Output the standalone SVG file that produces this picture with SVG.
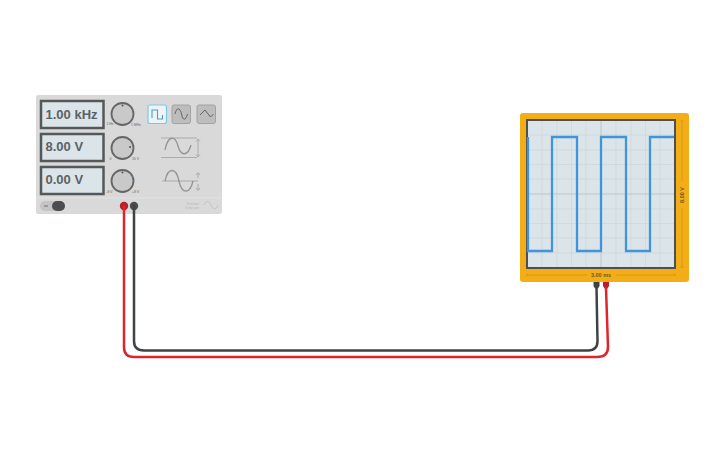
<svg xmlns="http://www.w3.org/2000/svg" width="725" height="453" viewBox="0 0 725 453">
<style>
.disp{fill:#dbe5e9;stroke:#555858;stroke-width:2.500}
.dt{font-family:"Liberation Sans",Arial,sans-serif;font-size:13px;font-weight:bold;fill:#5c6163}
.knob{fill:#c9c9c9;stroke:#666;stroke-width:1.800}
.dot{fill:#555}
.btn{fill:#bdbdbd;stroke:#a2a2a2;stroke-width:1}
.gl{fill:none;stroke:#666;stroke-width:1}
.sym{fill:none;stroke:#ababab;stroke-width:1}
.symd{fill:none;stroke:#949494;stroke-width:1.300}
.grid{stroke:#cdd6d9;stroke-width:.7}
.gridc{stroke:#bcc4c6;stroke-width:1}
.dim{stroke:#c8920f;stroke-width:.7;fill:none}
.w{fill:none;stroke-width:2.500;stroke-linecap:round;stroke-linejoin:round}
.tiny{font-family:"Liberation Sans",Arial,sans-serif;fill:#666;font-size:3.500px;text-anchor:middle}
.scale{font-family:"Liberation Sans",Arial,sans-serif;font-size:5.500px;font-weight:bold;text-anchor:middle;fill:#6b5a22}
</style>
<rect width="725" height="453" fill="#fff"/>
<g id="function-generator">
<rect x="36" y="95" width="186" height="119" rx="2" fill="#d9d9d9"/>
<line x1="36" y1="198" x2="222" y2="198" stroke="#e2e2e2"/>
<rect class="disp" x="41" y="101" width="62.500" height="27"/><text class="dt" x="45.500" y="118.500">1.00 kHz</text>
<rect class="disp" x="41" y="134" width="62.500" height="27"/><text class="dt" x="45.500" y="151">8.00 V</text>
<rect class="disp" x="41" y="167" width="62.500" height="27"/><text class="dt" x="45.500" y="184">0.00 V</text>
<circle class="knob" cx="122.500" cy="114" r="11"/><circle class="knob" cx="122.500" cy="148" r="11"/><circle class="knob" cx="122.500" cy="181" r="11"/>
<circle class="dot" cx="122.500" cy="105.500" r="1"/><circle class="dot" cx="130" cy="147" r="1"/><circle class="dot" cx="122.500" cy="172.500" r="1"/>
<text class="tiny" x="110" y="125">1 Hz</text><text class="tiny" x="136" y="125.500">1 MHz</text>
<text class="tiny" x="110.500" y="159.500">0</text><text class="tiny" x="135.500" y="159.500">16 V</text>
<text class="tiny" x="109.500" y="192.500">-8 V</text><text class="tiny" x="135.500" y="192.500">+8 V</text>
<rect x="148" y="105" width="18.500" height="18.500" rx="2" fill="#eef3f5" stroke="#7cc8ea" stroke-width="1.200"/>
<path d="M152 118v-8h5.500v9h5v-4" fill="none" stroke="#4a9fd0" stroke-width="1.100"/>
<rect class="btn" x="172" y="105" width="18.500" height="18.500" rx="2"/>
<path class="gl" d="M175 114c1.500-7 5-7 6.500 0s4 7 6 0"/>
<rect class="btn" x="197" y="105" width="18.500" height="18.500" rx="2"/>
<path class="gl" d="M200 115l5-5 5.500 7 3-3"/>
<path class="sym" d="M161 138h36M161 157.500h36"/>
<path class="symd" d="M165 150c3-15 10-15 13-4 3 11 10 10 13-1"/>
<path class="sym" d="M198 139v18M196 141.500l2-2.500 2 2.500M196 154.500l2 2.500 2-2.500"/>
<path class="sym" d="M162 181h36"/>
<path class="symd" d="M165 181c3-14 11-14 14 0s11 13 14 0"/>
<path class="sym" d="M198 173v5M198 184v6M196 175l2-2.500 2 2.500M196 188l2 2.500 2-2.500"/>
<rect x="40" y="201" width="25" height="10" rx="5" fill="#c4c4c4"/>
<rect x="52" y="201" width="13" height="10" rx="5" fill="#4b4e4f"/>
<path d="M44 206h4" stroke="#777" stroke-width="1"/>
<text class="tiny" x="193" y="205" font-size="3.200" fill-opacity=".35" style="font-size:3.200px">Function</text>
<text class="tiny" x="192" y="209" font-size="3.200" fill-opacity=".35" style="font-size:3.200px">Generator</text>
<path d="M204 205c2-5 5-5 7 0s5 5 7 0" fill="none" stroke="#c2c2c2" stroke-width=".9"/>
<circle cx="124" cy="206" r="4.200" fill="#b5202a"/>
<circle cx="134" cy="206" r="4.200" fill="#4a4d4e"/>
</g>
<g id="oscilloscope">
<rect x="520" y="113" width="169" height="169" rx="3" fill="#f3ae17"/>
<rect x="527" y="120" width="148" height="148" fill="#dbe5e9" stroke="#4d5050" stroke-width="2"/>
<path class="grid" d="M542 121v146M557 121v146M571.500 121v146M586 121v146M616 121v146M631 121v146M645.500 121v146M660 121v146M528 135h146M528 150h146M528 164.500h146M528 179h146M528 209h146M528 223.500h146M528 238h146M528 253h146"/>
<path class="gridc" d="M601 121v146M528 194h146"/>
<path d="M528 137V251H552V137H577V251H601V137H626V251H650V137H674" fill="none" stroke="#4194dc" stroke-width="2.300"/>
<path class="dim" d="M682 121v60M682 208v59M680.500 121h3M680.500 267h3M527 275h60M616 275h59M527 273.500v3M675 273.500v3"/>
<text class="scale" x="601" y="276.500">3.00 ms</text>
<text class="scale" transform="translate(684,195) rotate(-90)">8.00 V</text>
<path d="M593.500 282h6v4l-1.500 2.500h-3l-1.500-2.500z" fill="#3f4243"/>
<path d="M603 282h6v4l-1.500 2.500h-3l-1.500-2.500z" fill="#b5202a"/>
</g>
<g id="connectors">
<path class="w" stroke="#e0242c" d="M124 206V347Q124 357 134 357H597Q608 357 608 347L606 288"/>
<path class="w" stroke="#3f4345" d="M134 206V341Q134 350.500 144 350.500H588Q597.500 350.500 597.500 341L596.500 288"/>
</g>
</svg>
